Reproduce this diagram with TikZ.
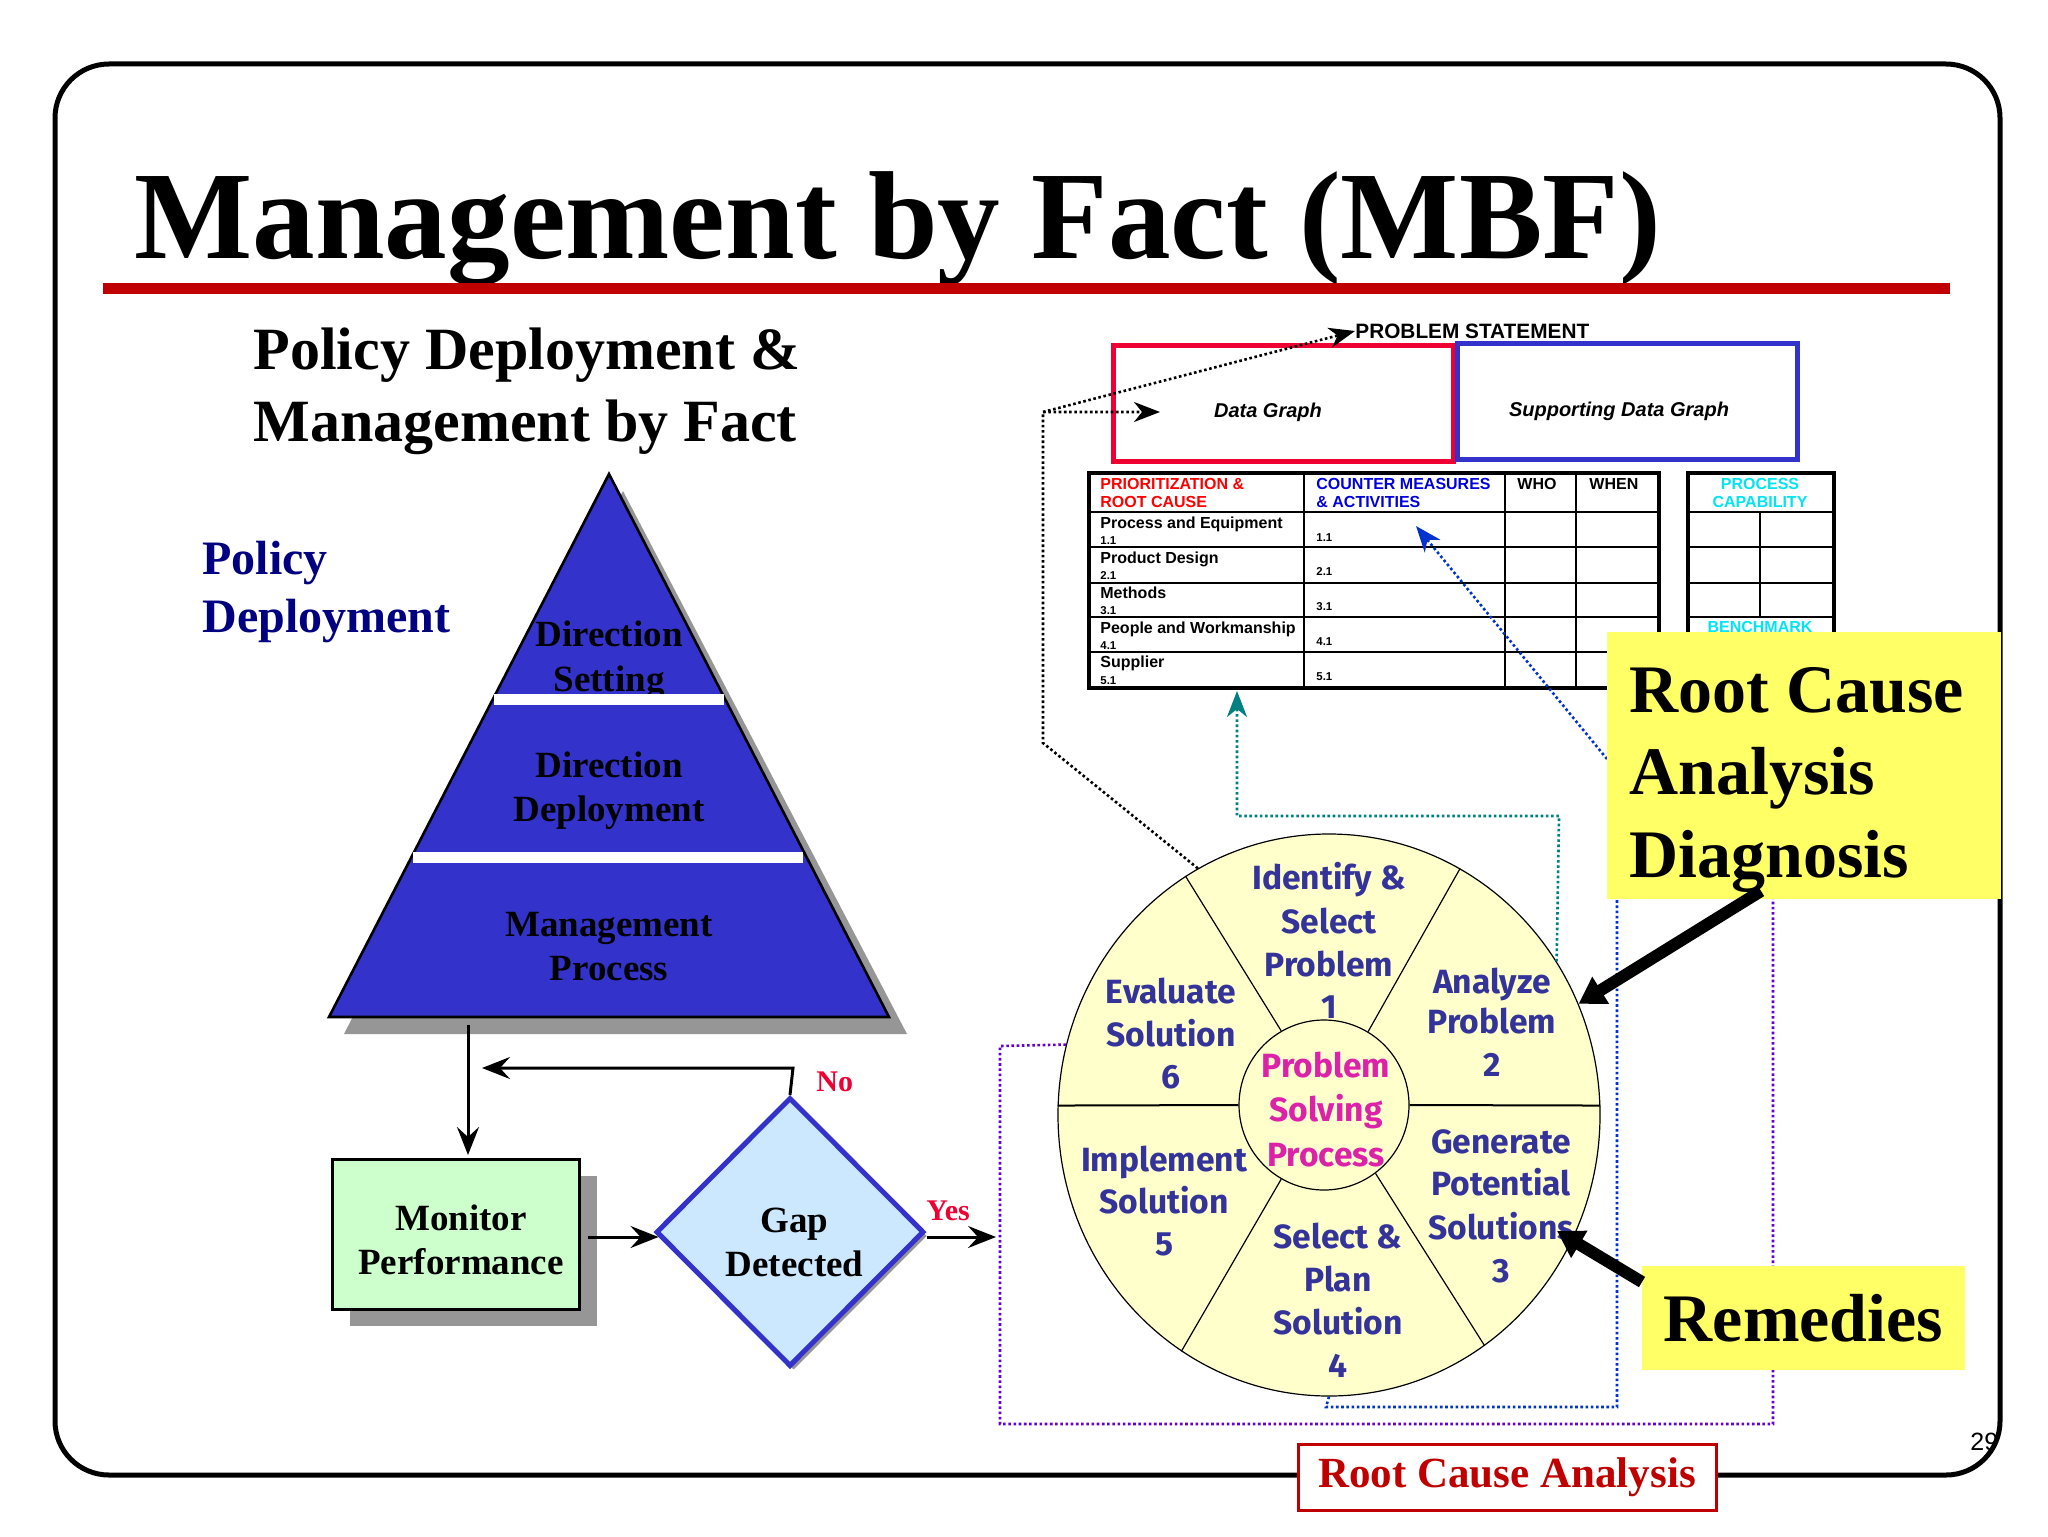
\documentclass[tikz,border=0pt]{standalone}
\usepackage{fontspec}
\setmainfont{Liberation Serif}
\newfontfamily\arialfont{Liberation Sans}
\newfontfamily\wheelfont{Fira Sans}
\usepackage{xcolor}
\usetikzlibrary{shapes.geometric,arrows.meta,shadows}
\definecolor{rulered}{HTML}{C00000}
\definecolor{navytext}{HTML}{000080}
\definecolor{pyrblue}{HTML}{3333CC}
\definecolor{shadegray}{HTML}{969696}
\definecolor{crimson}{HTML}{EE0033}
\definecolor{mintfill}{HTML}{CCFFCC}
\definecolor{skyfill}{HTML}{CCE8FF}
\definecolor{lemon}{HTML}{FFFF66}
\definecolor{creamfill}{HTML}{FFFFCC}
\definecolor{wheelblue}{HTML}{333399}
\definecolor{hubpink}{HTML}{DD22AA}
\definecolor{tealline}{HTML}{008080}
\definecolor{blueline}{HTML}{0033CC}
\definecolor{purpleline}{HTML}{6600CC}
\definecolor{cellblue}{HTML}{0000DD}
\definecolor{cellcyan}{HTML}{00E5F0}
\begin{document}
\begin{tikzpicture}[x=.5pt,y=-.5pt]
		\tikzstyle{title}=[anchor=base west,inner sep=0,font=\fontsize{62.6}{68}\selectfont\bfseries]
		\tikzstyle{subhead}=[anchor=base west,inner sep=0,font=\fontsize{30}{34}\selectfont\bfseries]
		\tikzstyle{policy}=[anchor=base west,inner sep=0,text=navytext,font=\fontsize{24}{28}\selectfont\bfseries]
		\tikzstyle{pyrtext}=[anchor=base,inner sep=0,font=\fontsize{18.5}{22}\selectfont\bfseries]
		\tikzstyle{flowtext}=[align=center,inner sep=0,font=\fontsize{18.5}{22}\selectfont\bfseries]
		\tikzstyle{answer}=[anchor=base west,inner sep=0,text=crimson,font=\fontsize{15}{18}\selectfont\bfseries]
		\tikzstyle{bigtext}=[anchor=base west,inner sep=0,font=\fontsize{34}{40}\selectfont\bfseries]
		\tikzstyle{cell}=[anchor=base west,inner sep=0,font=\fontsize{8}{10}\selectfont\arialfont\bfseries]
		\tikzstyle{cellmid}=[anchor=base,inner sep=0,text=cellcyan,font=\fontsize{8}{10}\selectfont\arialfont\bfseries]
		\tikzstyle{num}=[anchor=base west,inner sep=0,font=\fontsize{5.7}{7}\selectfont\arialfont\bfseries]
		\tikzstyle{graphbox}=[rectangle,line width=2.5pt,inner sep=0,minimum width=170pt,minimum height=58pt,font=\fontsize{10}{12}\selectfont\arialfont\bfseries\itshape]
		\tikzstyle{yellowbox}=[rectangle,fill=lemon,inner sep=0]
		\tikzstyle{wheeltext}=[anchor=base,inner sep=0,xshift=1.5pt,text=wheelblue,font=\fontsize{16.8}{18}\selectfont\wheelfont\bfseries]
		\tikzstyle{hubtext}=[wheeltext,text=hubpink]
		\tikzstyle{flow}=[line width=1.5pt,-{Stealth[length=14pt,width=11pt,inset=5pt]}]
		\tikzstyle{dotlink}=[line width=1.3pt,dash pattern=on 1.3pt off 1.3pt]
		\tikzstyle{dottip}=[-{Stealth[length=13pt,width=10pt,inset=4pt]}]
		\tikzstyle{thickarrow}=[line width=6pt,-{Stealth[length=13pt,width=15pt,inset=0pt]}]
		\tikzstyle{tableline}=[line width=1pt]
		\tikzstyle{tableframe}=[line width=1.8pt]

		\useasboundingbox (0,0) rectangle (2048,1536);
		\fill[white] (0,0) rectangle (2048,1536);

		\node [anchor=base west,inner sep=0,font=\fontsize{12.5}{15}\selectfont\arialfont] (pagenum) at (1970,1450) {29};
		\draw [line width=2.5pt,rounded corners=27pt] (55,64) rectangle (2000,1475);
		\node [title] (maintitle) at (134,258) {Management by Fact (MBF)};
		\fill [rulered] (103,283) rectangle (1950,294);

		\node [subhead] (headone) at (253,369) {Policy Deployment \&};
		\node [subhead] (headtwo) at (253,441) {Management by Fact};
		\node [policy] (policyone) at (202,574) {Policy};
		\node [policy] (policytwo) at (202,632) {Deployment};

		\fill [shadegray] (623,491) -- (907,1034) -- (344,1034) -- cycle;
		\draw [fill=pyrblue,line width=1.3pt] (609,474) -- (889,1017) -- (329,1017) -- cycle;
		\node [pyrtext] (dirset) at (609,646) {Direction};
		\node [pyrtext] (setting) at (609,691) {Setting};
		\node [pyrtext] (dirdep) at (609,777) {Direction};
		\node [pyrtext] (deploy) at (609,821) {Deployment};
		\node [pyrtext] (mgmt) at (609,936) {Management};
		\node [pyrtext] (process) at (609,980) {Process};
		\fill [white] (494,694) rectangle (724,705);
		\fill [white] (413,852) rectangle (803,863);

		\coordinate (pyrfoot) at (468,1025);
		\coordinate (loopbend) at (793,1068);
		\coordinate (looptip) at (482,1068);
		\coordinate (monitortip) at (468,1155);
		\coordinate (yestip) at (996,1237);

		\node [rectangle,draw,line width=1.5pt,fill=mintfill,minimum width=123.5pt,minimum height=75pt,flowtext,general shadow={shadow xshift=8.5pt,shadow yshift=-8.5pt,fill=shadegray}] (monitor) at (456,1234) {\hspace*{5pt}\rule{0pt}{18.3pt}Monitor\\\hspace*{5pt}Performance};
		\node [diamond,draw=pyrblue,line width=2.5pt,fill=skyfill,minimum width=134pt,minimum height=134.5pt,flowtext,general shadow={shadow xshift=1.8pt,shadow yshift=-2pt,fill=shadegray}] (gap) at (790,1232) {\hspace*{4.6pt}\rule{0pt}{22.2pt}Gap\\\hspace*{4.6pt}Detected};

		\draw [flow] (pyrfoot) -- (monitortip);
		\draw [flow] (gap.north) -- (loopbend) -- (looptip);
		\draw [flow] ([xshift=3.5pt,yshift=-1.5pt]monitor.east) -- ([xshift=2.5pt,yshift=-2.5pt]gap.west);
		\draw [flow] ([yshift=-2.5pt]gap.east) -- (yestip);
		\node [answer] (noword) at (816,1091) {No};
		\node [answer] (yesword) at (926,1220) {Yes};

		\node [graphbox,draw=crimson] (datagraph) at (1283,403) {\raisebox{-4.5pt}[\height][\depth]{Data Graph}\hspace{15pt}\null};
		\node [graphbox,draw=pyrblue] (suppgraph) at (1627.5,401) {\raisebox{-5pt}[\height][\depth]{Supporting Data Graph}\hspace{8.5pt}\null};
		\node [anchor=west,inner sep=0,font=\fontsize{10.4}{12}\selectfont\arialfont\bfseries] (stmt) at (1355,331) {PROBLEM STATEMENT};

		\draw [tableframe] (1089,473) rectangle (1659,688);
		\draw [tableline] (1304,473) -- (1304,688);
		\draw [tableline] (1505,473) -- (1505,688);
		\draw [tableline] (1576,473) -- (1576,688);
		\draw [tableline] (1089,512) -- (1659,512);
		\draw [tableline] (1089,547) -- (1659,547);
		\draw [tableline] (1089,583) -- (1659,583);
		\draw [tableline] (1089,617) -- (1659,617);
		\draw [tableline] (1089,652) -- (1659,652);
		\draw [tableframe] (1688,473) rectangle (1834,680);
		\draw [tableline] (1760,512) -- (1760,617);
		\draw [tableline] (1688,512) -- (1834,512);
		\draw [tableline] (1688,547) -- (1834,547);
		\draw [tableline] (1688,583) -- (1834,583);
		\draw [tableline] (1688,617) -- (1834,617);

		\node [cell,text=red] (prio) at (1100,489) {PRIORITIZATION \&};
		\node [cell,text=red] (rootc) at (1100,507) {ROOT CAUSE};
		\node [cell,text=cellblue] (counter) at (1316,489) {COUNTER MEASURES};
		\node [cell,text=cellblue] (activ) at (1316,507) {\& ACTIVITIES};
		\node [cell] (who) at (1517,489) {WHO};
		\node [cell] (when) at (1589,489) {WHEN};
		\node [cellmid] (capone) at (1760,489) {PROCESS};
		\node [cellmid] (captwo) at (1760,507) {CAPABILITY};
		\node [cellmid] (bench) at (1760,632) {BENCHMARK};

		\node [cell] (rowa) at (1100,528) {Process and Equipment};
		\node [cell] (rowb) at (1100,563) {Product Design};
		\node [cell] (rowc) at (1100,598) {Methods};
		\node [cell] (rowd) at (1100,633) {People and Workmanship};
		\node [cell] (rowe) at (1100,667) {Supplier};
		\node [num] (numa) at (1100,544) {1.1};
		\node [num] (numb) at (1100,579) {2.1};
		\node [num] (numc) at (1100,614) {3.1};
		\node [num] (numd) at (1100,649) {4.1};
		\node [num] (nume) at (1100,684) {5.1};
		\node [num] (acta) at (1316,541) {1.1};
		\node [num] (actb) at (1316,575) {2.1};
		\node [num] (actc) at (1316,610) {3.1};
		\node [num] (actd) at (1316,645) {4.1};
		\node [num] (acte) at (1316,680) {5.1};

		\node [ellipse,draw,line width=.6pt,fill=creamfill,inner sep=0,minimum width=271pt,minimum height=281pt] (wheel) at (1329,1115) {};
		\node [circle,draw,line width=.6pt,fill=creamfill,inner sep=0,minimum size=85pt] (hub) at (1324,1105) {};
		\draw [line width=.6pt] (wheel.121) -- (hub.120);
		\draw [line width=.6pt] (wheel.62) -- (hub.59);
		\draw [line width=.6pt] (wheel.238) -- (hub.240);
		\draw [line width=.6pt] (wheel.304) -- (hub.307);
		\draw [line width=1pt] (wheel.178) -- (hub.180);
		\draw [line width=1pt] (wheel.2) -- (hub.0);

		\coordinate (bendlow) at (1043,743);
		\coordinate (bendup) at (1043,412);
		\coordinate (datatip) at (1160,412);
		\coordinate (tealright) at (1559,816);
		\coordinate (tealleft) at (1237,816);
		\coordinate (tealtip) at (1237,691);
		\coordinate (bluelow) at (1326,1407);
		\coordinate (blueright) at (1617,1407);
		\coordinate (bluetop) at (1617,899);
		\coordinate (purpleleft) at (1000,1046);
		\coordinate (purplelow) at (1000,1424);
		\coordinate (purpleright) at (1773,1424);
		\coordinate (purpletop) at (1773,899);
		\coordinate (bluetip) at (1416,526);
		\coordinate (bluestart) at (1607,759);

		\draw [dotlink,dottip] (wheel.118) -- (bendlow) -- (bendup) -- (datatip);
		\draw [dotlink,dottip] (bendup) -- (stmt.west);
		\draw [dotlink,dottip,tealline] (wheel.34) -- (tealright) -- (tealleft) -- (tealtip);
		\draw [dotlink,dottip,blueline] (bluestart) -- (bluetip);
		\draw [dotlink,blueline] (wheel.south) -- (bluelow) -- (blueright) -- (bluetop);
		\draw [dotlink,purpleline] (wheel.165) -- (purpleleft) -- (purplelow) -- (purpleright) -- (purpletop);

		\node [wheeltext] (ida) at (1326,889) {Identify \&};
		\node [wheeltext] (idb) at (1326,933) {Select};
		\node [wheeltext] (idc) at (1326,976) {Problem};
		\node [wheeltext] (idd) at (1326,1018) {1};
		\node [wheeltext] (ana) at (1489,993) {Analyze};
		\node [wheeltext] (anb) at (1489,1033) {Problem};
		\node [wheeltext] (anc) at (1489,1076) {2};
		\node [wheeltext] (gena) at (1498,1153) {Generate};
		\node [wheeltext] (genb) at (1498,1195) {Potential};
		\node [wheeltext] (genc) at (1498,1239) {Solutions};
		\node [wheeltext] (gend) at (1498,1282) {3};
		\node [wheeltext] (sela) at (1335,1248) {Select \&};
		\node [wheeltext] (selb) at (1335,1291) {Plan};
		\node [wheeltext] (selc) at (1335,1334) {Solution};
		\node [wheeltext] (seld) at (1335,1377) {4};
		\node [wheeltext] (impa) at (1161,1171) {Implement};
		\node [wheeltext] (impb) at (1161,1213) {Solution};
		\node [wheeltext] (impc) at (1161,1255) {5};
		\node [wheeltext] (evaa) at (1168,1003) {Evaluate};
		\node [wheeltext] (evab) at (1168,1046) {Solution};
		\node [wheeltext] (evac) at (1168,1088) {6};
		\node [hubtext] (huba) at (1323,1077) {Problem};
		\node [hubtext] (hubb) at (1323,1121) {Solving};
		\node [hubtext] (hubc) at (1323,1166) {Process};

		\node [yellowbox,minimum width=197pt,minimum height=133.5pt] (rootbox) at (1804,765.5) {};
		\node [bigtext] (roota) at (1629,712) {Root Cause};
		\node [bigtext] (rootb) at (1629,794) {Analysis};
		\node [bigtext] (rootc2) at (1629,877) {Diagnosis};
		\node [yellowbox,minimum width=161.5pt,minimum height=52pt,font=\fontsize{34}{40}\selectfont\bfseries] (remedybox) at (1803.5,1318) {Remedies};
		\coordinate (rootfoot) at (1761,891);
		\coordinate (remedytip) at (1557,1231);
		\coordinate (remedyfoot) at (1642,1282);
		\draw [thickarrow] (rootfoot) -- (wheel.24);
		\draw [thickarrow] (remedyfoot) -- (remedytip);

		\node [rectangle,draw=rulered,fill=white,line width=1.5pt,inner sep=0,minimum width=209pt,minimum height=33pt,text=rulered,font=\fontsize{21.5}{25}\selectfont\bfseries] (rootlabel) at (1507,1477) {Root Cause Analysis};
\end{tikzpicture}
\end{document}
